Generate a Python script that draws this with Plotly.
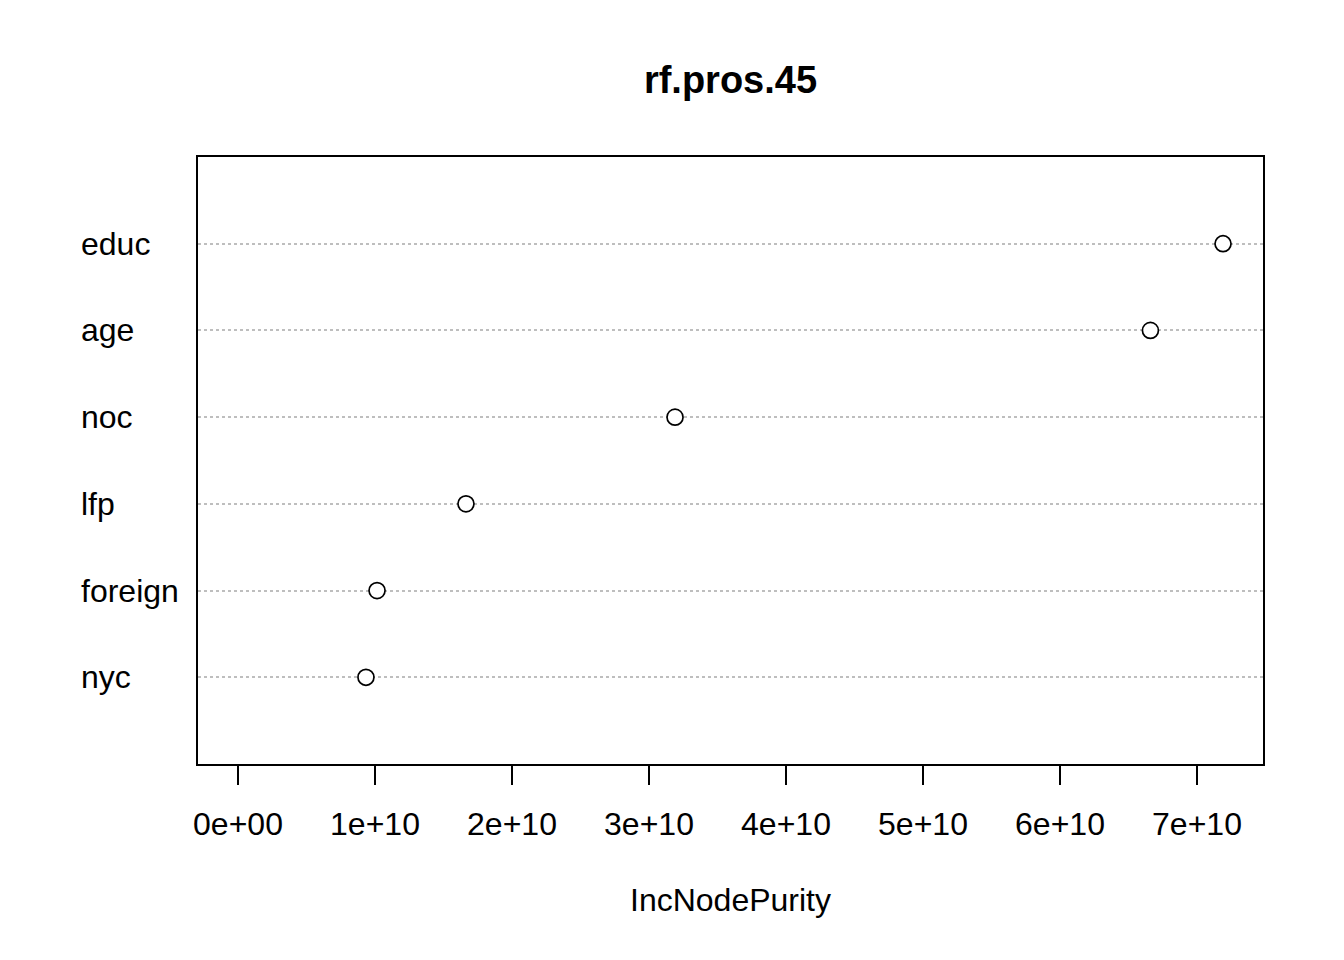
import plotly.graph_objects as go

# Data (bottom to top, as in the dotchart)
variables = ["nyc", "foreign", "lfp", "noc", "age", "educ"]
inc_node_purity = [0.934e10, 1.015e10, 1.664e10, 3.19e10, 6.66e10, 7.19e10]
tick_values = [0, 1e10, 2e10, 3e10, 4e10, 5e10, 6e10, 7e10]
tick_labels = ["0e+00", "1e+10", "2e+10", "3e+10", "4e+10", "5e+10", "6e+10", "7e+10"]
title_text = "rf.pros.45"
xlabel = "IncNodePurity"

FONT = "Liberation Sans, Arial, Helvetica, sans-serif"
OFF = 8  # page body margin
W, H = 1344, 960
L, T = 198 - OFF, 157 - OFF
plot_w = 1263 - 198
plot_h = 764 - 157
R = W - L - plot_w
B = H - T - plot_h

ypos = list(range(1, len(variables) + 1))

fig = go.Figure()
fig.add_trace(go.Scatter(
    x=inc_node_purity, y=ypos, mode="markers",
    marker=dict(symbol="circle", size=16, color="white",
                line=dict(color="black", width=1.7)),
    hoverinfo="x+text", text=variables, showlegend=False,
))

annotations = []
for name, yv in zip(variables, ypos):
    annotations.append(dict(
        text=name, xref="paper", yref="y", x=(81 - OFF - 2 - L) / plot_w, y=yv,
        xanchor="left", yanchor="middle", showarrow=False,
        font=dict(family=FONT, size=32, color="black"),
    ))
annotations.append(dict(
    text=xlabel, xref="paper", yref="paper", x=0.5, y=-(900 - 764) / plot_h,
    xanchor="center", yanchor="middle", showarrow=False,
    font=dict(family=FONT, size=32, color="black"),
))

fig.update_layout(
    width=W, height=H,
    margin=dict(l=L, r=R, t=T, b=B, pad=0),
    paper_bgcolor="white", plot_bgcolor="white",
    title=dict(text="<b>" + title_text + "</b>", x=(L + plot_w / 2) / W, xanchor="center",
               y=1 - (80 - OFF) / H, yanchor="middle", yref="container",
               font=dict(family=FONT, size=38, color="black")),
    annotations=annotations,
    xaxis=dict(
        range=[(198 - 238) / 137 * 1e10, (1263 - 238) / 137 * 1e10],
        tickvals=tick_values, ticktext=tick_labels,
        ticks="outside", ticklen=19, tickwidth=1.5, tickcolor="black",
        showline=True, linecolor="black", linewidth=1.5, mirror=True,
        showgrid=False, zeroline=False,
        tickfont=dict(family=FONT, size=32, color="black"),
        ticklabelstandoff=12,
    ),
    yaxis=dict(
        range=[0, len(variables) + 1],
        tickvals=ypos, showticklabels=False, ticks="",
        showline=True, linecolor="black", linewidth=1.5, mirror=True,
        showgrid=True, gridcolor="#BEBEBE", gridwidth=1.5, griddash="3px,3px",
        zeroline=False,
    ),
)

fig.write_html("out.html")
